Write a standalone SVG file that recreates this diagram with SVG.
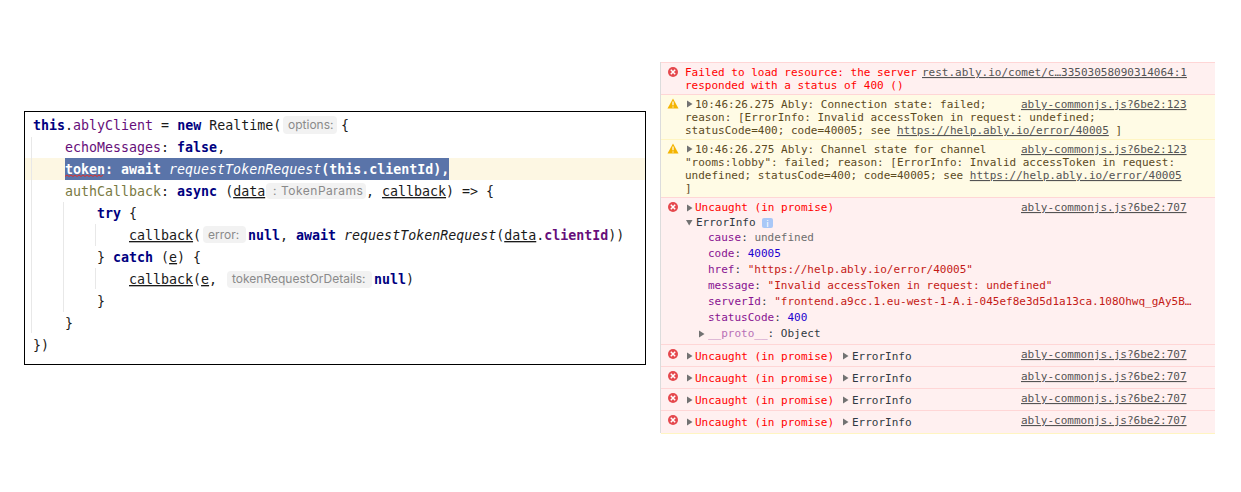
<svg xmlns="http://www.w3.org/2000/svg" width="1241" height="492" viewBox="0 0 1241 492">
<style>
text{white-space:pre}
.c{font:13.3px "DejaVu Sans Mono",monospace;fill:#1a1a1a}
.k{font-weight:bold;fill:#000080}
.p{font-weight:bold;fill:#660e7a}
.f{fill:#660e7a}
.o{fill:#7a7a43}
.i{font-style:italic}
.u{text-decoration:underline}
.w{font-weight:bold;fill:#fff}
.pill{fill:#f2f2f2}
.h{font:12px Inter,sans-serif;fill:#8a8a8a}
.g{stroke:#e8e8e8;stroke-width:1;fill:none}
.m{font:11px "DejaVu Sans Mono",monospace}
.r{fill:#f00}
.y{fill:#5c4a1e}
.l{fill:#545454;text-decoration:underline}
.d{fill:#303942}
.n{fill:#881391}
.v{fill:#1c00cf}
.s{fill:#c41a16}
.t{fill:#6e6e6e}
.pk{fill:#fff0f0}
.yl{fill:#fffbe5}
.sp{stroke:#ffd6d6;stroke-width:1}
.sy{stroke:#fff5c2;stroke-width:1}
</style>
<defs>
<g id="err"><circle r="5" fill="#e5484d"/><path d="M-2.2-2.2L2.2 2.2M2.2-2.2L-2.2 2.2" stroke="#fff" stroke-width="1.5"/></g>
<g id="warn"><path d="M0-5.5L5.5 4.5H-5.5Z" fill="#f4b400"/><path d="M0-2.5V1.2M0 2.4V3.6" stroke="#fff" stroke-width="1.2"/></g>
<path id="tr" d="M0-3.5L5.5 0L0 3.5Z" fill="#727272"/>
</defs>
<rect width="1241" height="492" fill="#fff"/>
<g id="editor">
<rect x="25" y="158" width="620" height="22" fill="#fdf7e3"/>
<rect x="65" y="158" width="384" height="22" fill="#5a74a9"/>
<path class="g" d="M31.5 137V333M63.5 202V312M95.5 224V246M95.5 268V289"/>
<rect x="283" y="116" width="54" height="18" rx="4" class="pill"/>
<rect x="266" y="183" width="100" height="16" rx="4" class="pill"/>
<rect x="203" y="226" width="43" height="17" rx="4" class="pill"/>
<rect x="227" y="271" width="145" height="17" rx="4" class="pill"/>
<text class="c" x="33" y="130"><tspan class="k">this</tspan>.<tspan class="f">ablyClient</tspan> = <tspan class="k">new</tspan> Realtime(</text>
<text class="h" x="288" y="129">options:</text>
<text class="c" x="341" y="130">{</text>
<text class="c" x="65" y="152"><tspan class="f">echoMessages</tspan>: <tspan class="k">false</tspan>,</text>
<text class="c w" x="65" y="174">token: await <tspan class="i" font-weight="normal">requestTokenRequest</tspan>(this.clientId),</text>
<path d="M65 176.5l2-1.5 2 1.5 2-1.5 2 1.5 2-1.5 2 1.5 2-1.5 2 1.5 2-1.5 2 1.5 2-1.5 2 1.5 2-1.5 2 1.5 2-1.5 2 1.5 2-1.5 2 1.5 2-1.5" fill="none" stroke="#e0302a" stroke-width="1"/>
<text class="c" x="65" y="196"><tspan class="o">authCallback</tspan>: <tspan class="k">async</tspan> (<tspan class="u">data</tspan></text>
<text class="h" x="273" y="195">:</text>
<text class="h" x="281" y="195" letter-spacing=".5">TokenParams</text>
<text class="c" x="366" y="196">, <tspan class="u" x="382">callback</tspan>) =&gt; {</text>
<text class="c" x="97" y="218"><tspan class="k">try</tspan> {</text>
<text class="c" x="129" y="240"><tspan class="u">callback</tspan>(</text>
<text class="h" x="208" y="239">error:</text>
<text class="c" x="248" y="240"><tspan class="k">null</tspan>, <tspan class="k">await</tspan> <tspan class="i">requestTokenRequest</tspan>(<tspan class="u">data</tspan>.<tspan class="p">clientId</tspan>))</text>
<text class="c" x="97" y="262">} <tspan class="k">catch</tspan> (<tspan class="u">e</tspan>) {</text>
<text class="c" x="129" y="284"><tspan class="u">callback</tspan>(<tspan class="u">e</tspan>,</text>
<text class="h" x="232" y="283">tokenRequestOrDetails:</text>
<text class="c" x="374" y="284"><tspan class="k">null</tspan>)</text>
<text class="c" x="97" y="306">}</text>
<text class="c" x="65" y="328">}</text>
<text class="c" x="33" y="350">})</text>
<rect x="24.5" y="111.5" width="621" height="253" fill="none" stroke="#000"/>
</g>
<g id="console">
<rect x="661" y="62" width="554" height="32" class="pk"/>
<rect x="661" y="94" width="554" height="103" class="yl"/>
<rect x="661" y="197" width="554" height="236" class="pk"/>
<path class="sp" d="M661 62.5H1215M661 94.5H1215M661 197.5H1215M661 344.5H1215M661 366.5H1215M661 388.5H1215M661 410.5H1215"/>
<path class="sy" d="M661 139.5H1215M661 433.5H1215"/>
<path d="M660.5 62V433" stroke="#dcdcdc"/>
<g id="row1">
<use href="#err" x="673" y="72"/>
<text class="m r" x="685" y="76">Failed to load resource: the server</text>
<text class="m l" x="922" y="76">rest.ably.io/comet/c…33503058090314064:1</text>
<text class="m r" x="685" y="89">responded with a status of 400 ()</text>
</g>
<g id="row2">
<use href="#warn" x="673" y="104"/><use href="#tr" x="687" y="104"/>
<text class="m y" x="695" y="108">10:46:26.275 Ably: Connection state: failed;</text>
<text class="m l" x="1021" y="108">ably-commonjs.js?6be2:123</text>
<text class="m y" x="685" y="121">reason: [ErrorInfo: Invalid accessToken in request: undefined;</text>
<text class="m y" x="685" y="134">statusCode=400; code=40005; see <tspan class="l">https://help.ably.io/error/40005</tspan> ]</text>
</g>
<g id="row3">
<use href="#warn" x="673" y="149"/><use href="#tr" x="687" y="149"/>
<text class="m y" x="695" y="153">10:46:26.275 Ably: Channel state for channel</text>
<text class="m l" x="1021" y="153">ably-commonjs.js?6be2:123</text>
<text class="m y" x="685" y="166">"rooms:lobby": failed; reason: [ErrorInfo: Invalid accessToken in request:</text>
<text class="m y" x="685" y="179">undefined; statusCode=400; code=40005; see <tspan class="l">https://help.ably.io/error/40005</tspan></text>
<text class="m y" x="685" y="192">]</text>
</g>
<g id="row4">
<use href="#err" x="673" y="207"/><use href="#tr" x="687" y="208"/>
<text class="m r" x="695" y="211">Uncaught (in promise)</text>
<text class="m l" x="1021" y="211">ably-commonjs.js?6be2:707</text>
<path d="M686 220H692.5L689.2 225.5Z" fill="#727272"/>
<text class="m d" x="696" y="226">ErrorInfo</text>
<rect x="762" y="218" width="11" height="10" rx="2" fill="#a9c8f7"/>
<text x="767.5" y="226.5" text-anchor="middle" style="font:9px 'DejaVu Sans',sans-serif;fill:#fff">i</text>
<text class="m" x="708" y="241"><tspan class="n">cause</tspan><tspan class="d">: </tspan><tspan class="t">undefined</tspan></text>
<text class="m" x="708" y="257"><tspan class="n">code</tspan><tspan class="d">: </tspan><tspan class="v">40005</tspan></text>
<text class="m" x="708" y="273"><tspan class="n">href</tspan><tspan class="d">: </tspan><tspan class="s">"https://help.ably.io/error/40005"</tspan></text>
<text class="m" x="708" y="289"><tspan class="n">message</tspan><tspan class="d">: </tspan><tspan class="s">"Invalid accessToken in request: undefined"</tspan></text>
<text class="m" x="708" y="305"><tspan class="n">serverId</tspan><tspan class="d">: </tspan><tspan class="s">"frontend.a9cc.1.eu-west-1-A.i-045ef8e3d5d1a13ca.108Ohwq_gAy5B…</tspan></text>
<text class="m" x="708" y="321"><tspan class="n">statusCode</tspan><tspan class="d">: </tspan><tspan class="v">400</tspan></text>
<use href="#tr" x="699" y="334"/>
<text class="m" x="708" y="337"><tspan class="n" style="opacity:.6">__proto__</tspan><tspan class="d">: Object</tspan></text>
</g>
<g id="row5">
<use href="#err" x="673" y="354"/><use href="#tr" x="687" y="356"/>
<text class="m r" x="695" y="360">Uncaught (in promise)</text><use href="#tr" x="843" y="356"/>
<text class="m d" x="852" y="360">ErrorInfo</text>
<text class="m l" x="1021" y="358">ably-commonjs.js?6be2:707</text>
</g>
<g id="row6">
<use href="#err" x="673" y="376"/><use href="#tr" x="687" y="378"/>
<text class="m r" x="695" y="382">Uncaught (in promise)</text><use href="#tr" x="843" y="378"/>
<text class="m d" x="852" y="382">ErrorInfo</text>
<text class="m l" x="1021" y="380">ably-commonjs.js?6be2:707</text>
</g>
<g id="row7">
<use href="#err" x="673" y="398"/><use href="#tr" x="687" y="400"/>
<text class="m r" x="695" y="404">Uncaught (in promise)</text><use href="#tr" x="843" y="400"/>
<text class="m d" x="852" y="404">ErrorInfo</text>
<text class="m l" x="1021" y="402">ably-commonjs.js?6be2:707</text>
</g>
<g id="row8">
<use href="#err" x="673" y="420"/><use href="#tr" x="687" y="422"/>
<text class="m r" x="695" y="426">Uncaught (in promise)</text><use href="#tr" x="843" y="422"/>
<text class="m d" x="852" y="426">ErrorInfo</text>
<text class="m l" x="1021" y="424">ably-commonjs.js?6be2:707</text>
</g>
</g>
</svg>
